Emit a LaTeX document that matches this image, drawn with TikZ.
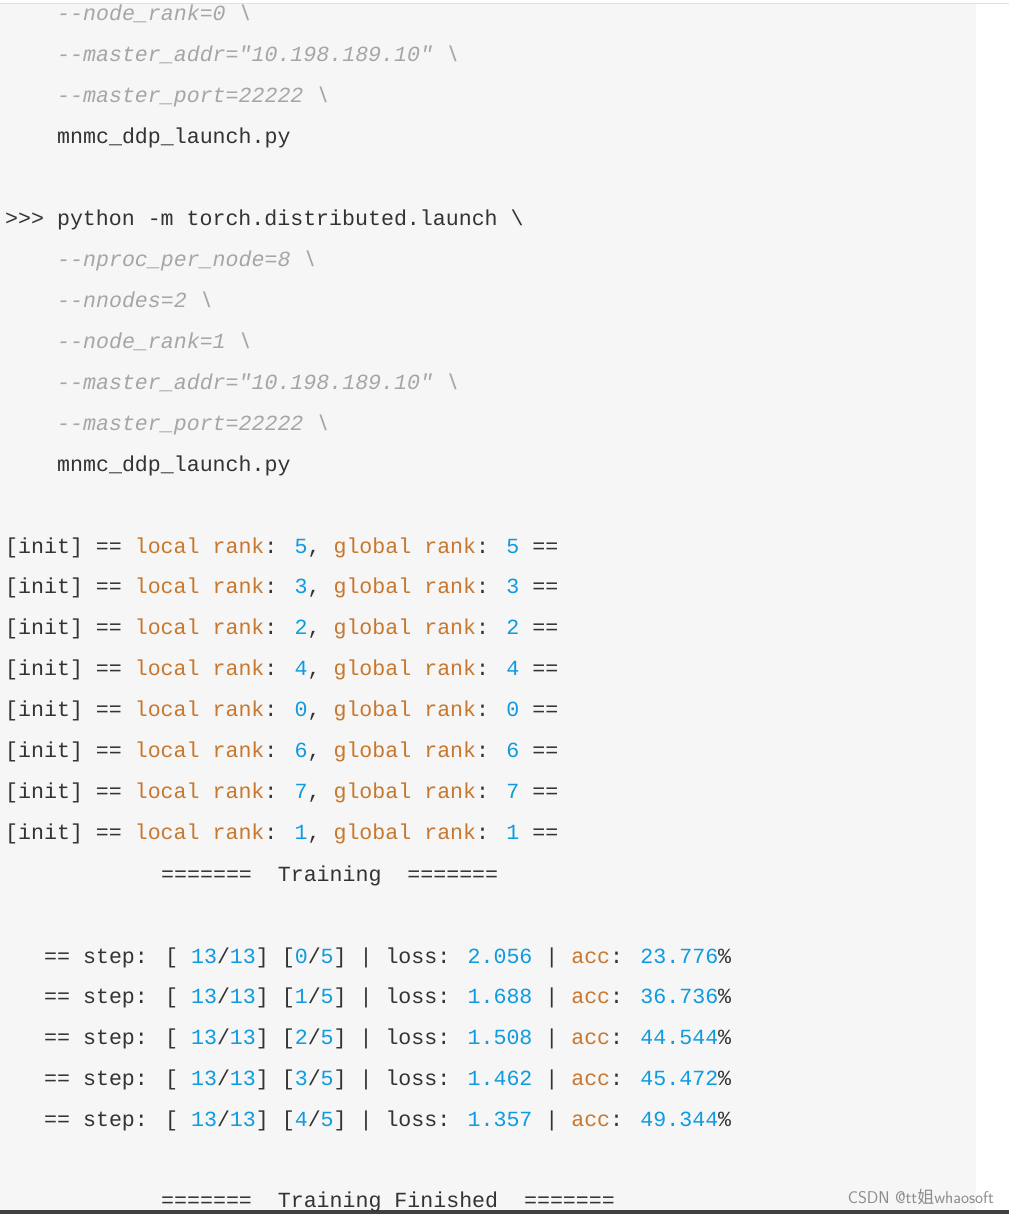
\documentclass[tikz,border=0pt]{standalone}
\usepackage{fontspec}
\newfontfamily\mono{Liberation Mono}
\newfontfamily\cjk{Noto Sans CJK SC}
\definecolor{bg}{HTML}{F6F6F6}
\definecolor{txt}{HTML}{333333}
\definecolor{cm}{HTML}{A6A6A6}
\definecolor{orn}{HTML}{C8782E}
\definecolor{blu}{HTML}{0E9BE0}
\newcommand\kwo[1]{\textcolor{orn}{#1}}
\newcommand\kwb[1]{\textcolor{blu}{#1}}
\newcommand\bsl{\textbackslash}
\newcommand\colx[1]{5+13*#1}
\begin{document}
\begin{tikzpicture}[x=1pt,y=-1pt,
  code/.style={anchor=base west,inner sep=0pt,text=txt,font=\mono\fontsize{21.6}{26}\selectfont},
  cmt/.style={code,text=cm,font=\mono\itshape\fontsize{21.6}{26}\selectfont}]
\useasboundingbox (0,0) rectangle (1009,1214);
\fill[white] (0,0) rectangle (1009,1214);
\fill[bg] (0,3) rectangle (976,1210);
\draw[black!12] (0,3) -- (1009,3);
\fill[black!75] (0,1210) rectangle (1009,1214);
\node[cmt] (a1) at ({\colx{4}},21) {--node\_rank=0 \bsl};
\node[cmt] (a2) at ({\colx{4}},62) {--master\_addr="10.198.189.10" \bsl};
\node[cmt] (a3) at ({\colx{4}},103) {--master\_port=22222 \bsl};
\node[code] (a4) at ({\colx{4}},144) {mnmc\_ddp\_launch.py};
\node[code] (b0) at ({\colx{0}},226) {>{}>{}> python -m torch.distributed.launch \bsl};
\node[cmt] (b1) at ({\colx{4}},267) {--nproc\_per\_node=8 \bsl};
\node[cmt] (b2) at ({\colx{4}},308) {--nnodes=2 \bsl};
\node[cmt] (b3) at ({\colx{4}},348) {--node\_rank=1 \bsl};
\node[cmt] (b4) at ({\colx{4}},389) {--master\_addr="10.198.189.10" \bsl};
\node[cmt] (b5) at ({\colx{4}},430) {--master\_port=22222 \bsl};
\node[code] (b6) at ({\colx{4}},471) {mnmc\_ddp\_launch.py};
\foreach \r [count=\i from 0] in {5,3,2,4,0,6,7,1}
  \node[code] (i\i) at ({\colx{0}},{553+40.9*\i}) {[init] == \kwo{local} \kwo{rank}: \kwb{\r}, \kwo{global} \kwo{rank}: \kwb{\r} ==};
\node[code] (t1) at ({\colx{12}},881) {=======~~Training~~=======};
\foreach \l/\a [count=\i from 0] in {2.056/23.776,1.688/36.736,1.508/44.544,1.462/45.472,1.357/49.344}
  \node[code] (s\i) at ({\colx{3}},{963+40.8*\i}) {== step: [ \kwb{13}/\kwb{13}] [\kwb{\i}/\kwb{5}] | loss: \kwb{\l} | \kwo{acc}: \kwb{\a}\%};
\node[code] (t2) at ({\colx{12}},1207) {=======~~Training Finished~~=======};
\node[anchor=base east,inner sep=0pt,text=black!45,font=\sffamily\fontsize{17}{20}\selectfont] (wm) at (994,1203) {CSDN @tt{\cjk 姐}whaosoft};
\end{tikzpicture}
\end{document}
